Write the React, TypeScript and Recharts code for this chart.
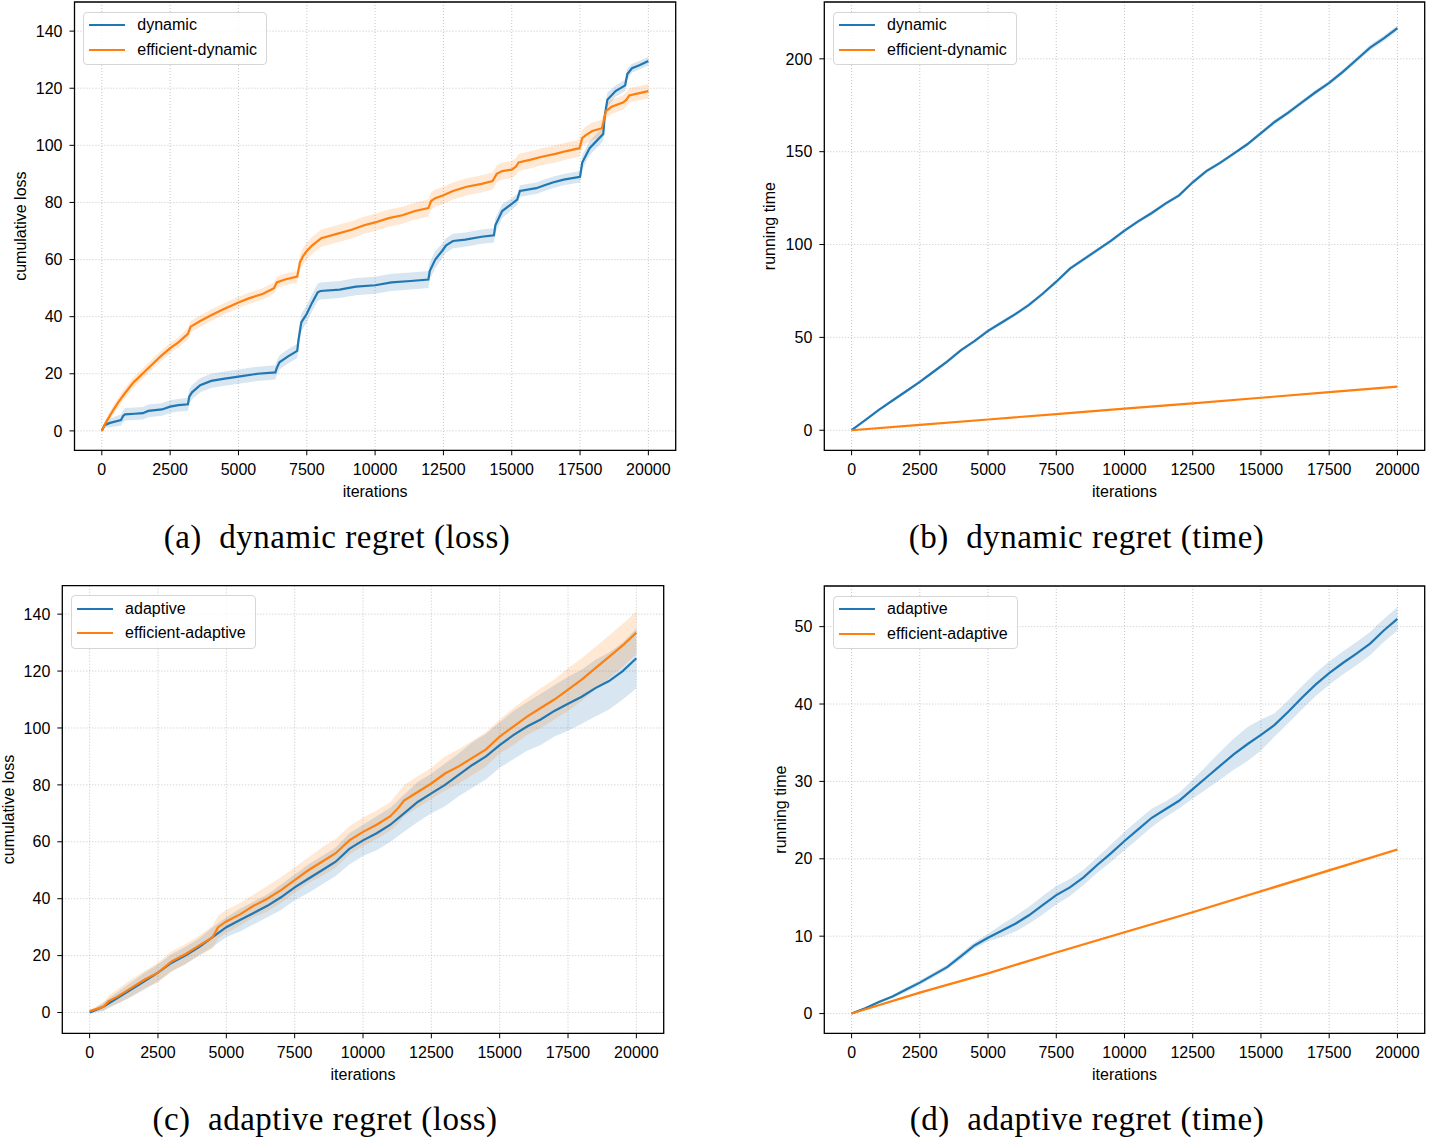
import React from 'react';
import { ComposedChart, Line, Area, XAxis, YAxis, CartesianGrid, ReferenceArea } from 'recharts';

const BLUE = '#1f77b4';
const ORANGE = '#ff7f0e';
const SANS = '"Liberation Sans", Arial, sans-serif';
const SERIF = '"Liberation Serif", "Times New Roman", serif';

const iterationTicks = [0, 2500, 5000, 7500, 10000, 12500, 15000, 17500, 20000];
const lossTicks = [0, 20, 40, 60, 80, 100, 120, 140];
const dynamicTimeTicks = [0, 50, 100, 150, 200];
const adaptiveTimeTicks = [0, 10, 20, 30, 40, 50];

// each point: [iteration, mean, half-width of the shaded band]
const dynamicLoss = [
  [0, 0, 0.3], [100, 2, 0.8], [300, 2.8, 1.5], [700, 3.8, 2], [780, 5.2, 2], [850, 5.8, 2.2],
  [1200, 6, 2.2], [1500, 6.2, 2.2], [1700, 7, 2.2], [2200, 7.5, 2.2], [2500, 8.5, 2.2], [2800, 9, 2.2],
  [3150, 9.3, 2.3], [3200, 12, 2.5], [3300, 13.5, 2.5], [3600, 16, 2.5], [4000, 17.5, 2.5], [4500, 18.3, 2.5],
  [5000, 19, 2.5], [5700, 20, 2.5], [6350, 20.5, 2.5], [6400, 22, 2.5], [6500, 24, 2.5], [6800, 26, 2.5],
  [7150, 28, 2.5], [7200, 32, 3], [7300, 38, 3], [7500, 41, 3], [7700, 45, 3], [7900, 48.5, 3],
  [8000, 49, 3], [8700, 49.5, 3], [9300, 50.5, 3], [10000, 51, 3], [10600, 52, 3], [11300, 52.5, 3],
  [11950, 53, 3], [12000, 56, 3], [12200, 60, 3], [12450, 63, 2.5], [12600, 65, 2.5], [12850, 66.5, 2.5],
  [13300, 67, 2.5], [13900, 68, 2.5], [14350, 68.5, 2.5], [14400, 72, 2.5], [14650, 77, 2.5], [15000, 79.5, 2],
  [15200, 81, 2], [15300, 84, 2], [15900, 85, 2], [16200, 86, 2], [16500, 87, 2], [16900, 88, 2],
  [17500, 89, 2], [17580, 94, 2.5], [17850, 99, 2.5], [18150, 102, 2.5], [18350, 104, 2.5], [18400, 110, 2.5],
  [18500, 116, 2.5], [18800, 119, 2], [19150, 121, 2], [19230, 125, 2], [19400, 127, 1.5], [19650, 128, 1.5],
  [20000, 129.5, 1.5],
];

const efficientDynamicLoss = [
  [0, 0, 0.3], [150, 3, 1], [400, 7, 1.5], [600, 10, 1.7], [830, 13, 1.8], [1160, 17, 1.8],
  [1650, 21.5, 1.8], [2140, 26, 1.8], [2500, 29, 1.8], [2800, 31, 1.8], [3150, 34, 2], [3250, 36.5, 2],
  [3600, 38.5, 2], [4000, 40.5, 2], [4430, 42.5, 2], [5000, 45, 2], [5400, 46.5, 2], [5900, 48, 2],
  [6300, 50, 2], [6400, 52, 2], [6700, 53, 2], [7150, 54, 2], [7250, 59, 2.5], [7350, 61, 3],
  [7500, 63, 3], [7700, 65, 3], [8030, 67.5, 3], [8600, 69, 3], [9170, 70.5, 3], [9600, 72, 3],
  [10000, 73, 3], [10500, 74.5, 3], [11000, 75.5, 3], [11460, 77, 3], [11950, 78, 3], [12050, 80.5, 3],
  [12200, 81.5, 3], [12500, 82.5, 3], [12850, 84, 3], [13350, 85.5, 3], [13900, 86.5, 3], [14300, 87.5, 3],
  [14450, 90, 3], [14650, 91, 3], [15000, 91.5, 3], [15150, 92.5, 3], [15250, 94, 3], [15700, 95, 3],
  [16100, 96, 3], [16600, 97, 3], [17000, 98, 3], [17480, 99, 3], [17580, 102.5, 3], [17700, 103.5, 3],
  [17950, 105, 3], [18300, 106, 3], [18400, 110, 2.5], [18450, 112, 2.5], [18650, 113.5, 2.5], [19070, 115, 2.5],
  [19200, 116, 2.5], [19300, 117.5, 2.5], [19550, 118, 2.5], [20000, 119, 2.5],
];

const dynamicTime = [
  [0, 0, 0.2], [500, 5.5, 0.5], [1000, 11, 0.6], [1500, 16, 0.7], [2000, 21, 0.8], [2500, 26, 0.8],
  [3000, 31.5, 0.8], [3500, 37, 0.9], [4000, 43, 0.9], [4500, 48, 0.9], [5000, 53.5, 1], [5500, 58, 1],
  [6000, 62.5, 1], [6500, 67.5, 1], [7000, 73.5, 1], [7500, 80, 1], [8000, 87, 1], [8500, 92, 1],
  [9000, 97, 1], [9500, 102, 1], [10000, 107.5, 1], [10500, 112.5, 1], [11000, 117, 1], [11500, 122, 1],
  [12000, 126.5, 1], [12500, 133.5, 1], [13000, 139.5, 1], [13500, 144, 1], [14000, 149, 1], [14500, 154, 1],
  [15000, 160, 1.2], [15500, 166, 1.2], [16000, 171, 1.2], [16500, 176.5, 1.2], [17000, 182, 1.2], [17500, 187, 1.2],
  [18000, 193, 1.3], [18500, 199.5, 1.3], [19000, 206, 1.4], [19500, 211, 1.5], [20000, 216.5, 1.5],
];

const efficientDynamicTime = [
  [0, 0, 0.1], [2500, 2.9, 0.2], [5000, 5.8, 0.2], [7500, 8.7, 0.3], [10000, 11.6, 0.3],
  [12500, 14.5, 0.3], [15000, 17.5, 0.3], [17500, 20.5, 0.4], [20000, 23.5, 0.4],
];

const adaptiveLoss = [
  [0, 0, 0.3], [500, 2, 1.5], [1000, 5, 2], [1500, 8, 2.5], [2000, 11, 3], [2500, 14, 3],
  [3000, 17.5, 3], [3500, 20, 3], [4000, 23, 3], [4500, 26.5, 3.5], [5000, 30, 3.5], [5500, 32.5, 4],
  [6000, 35, 4], [6500, 37.5, 4], [7000, 40.5, 4.5], [7500, 44, 4.5], [8000, 47, 5], [8500, 50, 5],
  [9000, 53, 5], [9500, 57.5, 5.5], [10000, 60.5, 5.5], [10500, 63, 6], [11000, 66, 6], [11500, 70, 6.5],
  [12000, 74, 7], [12500, 77, 7], [13000, 80, 7.5], [13500, 83.5, 7.5], [14000, 87, 8], [14500, 90, 8],
  [15000, 94, 8], [15500, 97.5, 8.5], [16000, 100.5, 8.5], [16500, 103, 9], [17000, 106, 9], [17500, 108.5, 9.5],
  [18000, 111, 9.5], [18500, 114, 10], [19000, 116.5, 10], [19500, 120, 10], [20000, 124.5, 10.5],
];

const efficientAdaptiveLoss = [
  [0, 0.5, 0.3], [500, 2, 1.5], [700, 4, 2], [1000, 5.5, 2.5], [1500, 8.5, 3], [2000, 11.5, 3],
  [2500, 14, 3.5], [3000, 18, 3.5], [3500, 20.5, 3.5], [4000, 23.5, 3.5], [4500, 26.5, 4], [4700, 30, 4],
  [5000, 32, 4], [5500, 34.5, 4], [6000, 37.5, 4], [6500, 40, 4.5], [7000, 43, 4.5], [7500, 46.5, 4.5],
  [8000, 50, 4.5], [8500, 53, 5], [9000, 56, 5], [9500, 60.5, 5], [10000, 63.5, 5], [10500, 66, 5],
  [11000, 69, 5], [11300, 72, 5.5], [11500, 74.5, 5.5], [12000, 77.5, 5.5], [12500, 80.5, 5.5], [13000, 84, 6],
  [13500, 86.5, 6], [14000, 89.5, 6], [14500, 92.5, 6], [15000, 97, 6], [15500, 100.5, 6.5], [16000, 104, 6.5],
  [16500, 107, 7], [17000, 110, 7], [17500, 113.5, 7.5], [18000, 117, 7.5], [18500, 121, 7.5], [19000, 125, 7.5],
  [19500, 129, 7.5], [20000, 133.5, 7.5],
];

const adaptiveTime = [
  [0, 0, 0.1], [500, 0.7, 0.1], [1000, 1.5, 0.2], [1500, 2.2, 0.2], [2000, 3.1, 0.3], [2500, 4, 0.3],
  [3000, 5, 0.3], [3500, 6, 0.3], [4000, 7.4, 0.4], [4500, 8.8, 0.4], [5000, 9.8, 0.5], [5500, 10.7, 0.8],
  [6000, 11.6, 1], [6500, 12.7, 1.1], [7000, 14, 1.2], [7500, 15.3, 1.2], [8000, 16.3, 1.1], [8500, 17.6, 1],
  [9000, 19.2, 1], [9500, 20.7, 1.1], [10000, 22.3, 1.2], [10500, 23.8, 1.2], [11000, 25.3, 1.2], [11500, 26.4, 1],
  [12000, 27.5, 1], [12500, 29, 1.2], [13000, 30.5, 1.5], [13500, 32, 1.8], [14000, 33.5, 2], [14500, 34.8, 2.2],
  [15000, 36, 2], [15500, 37.3, 1.5], [16000, 39, 1.5], [16500, 40.8, 1.5], [17000, 42.5, 1.5], [17500, 44, 1.5],
  [18000, 45.3, 1.5], [18500, 46.5, 1.5], [19000, 47.8, 1.5], [19500, 49.5, 1.5], [20000, 51, 1.5],
];

const efficientAdaptiveTime = [
  [0, 0, 0.1], [2500, 2.7, 0.1], [3500, 3.7, 0.1], [5000, 5.2, 0.1], [7500, 7.9, 0.15],
  [10000, 10.5, 0.15], [12500, 13.1, 0.15], [15000, 15.8, 0.2], [17500, 18.5, 0.2], [20000, 21.2, 0.2],
];

const rows = (pts: number[][]) => pts.map(([x, m, b]) => ({ x, mean: m, band: [m - b, m + b] }));

const tickStyle = { fontFamily: SANS, fontSize: 16, fill: '#000' };
const labelStyle = { fontFamily: SANS, fontSize: 16, fill: '#000' };

type Series = { name: string; color: string; pts: number[][] };

function LegendBox({ left, top, series }: { left: number; top: number; series: Series[] }) {
  return (
    <div
      style={{
        position: 'absolute', left, top, background: 'rgba(255,255,255,0.8)',
        border: '1px solid #d6d6d6', borderRadius: 4, padding: '0 9px 2px 5px',
        fontFamily: SANS, fontSize: 16, color: '#000',
      }}
    >
      {series.map((s) => (
        <div key={s.name} style={{ display: 'flex', alignItems: 'center', height: 24.7 }}>
          <svg width={36} height={8} style={{ marginRight: 12, display: 'block' }}>
            <line x1={0} x2={36} y1={4} y2={4} stroke={s.color} strokeWidth={2.2} />
          </svg>
          <span>{s.name}</span>
        </div>
      ))}
    </div>
  );
}

type PanelProps = {
  box: number[];
  plot: number[];
  yDomain: number[];
  yTicks: number[];
  yLabel: string;
  yLabelX: number;
  series: Series[];
  legend: number[];
};

function Panel({ box, plot, yDomain, yTicks, yLabel, yLabelX, series, legend }: PanelProps) {
  const [cl, ct, cw, ch] = box;
  const [px0, px1, py0, py1] = plot;
  return (
    <div style={{ position: 'absolute', left: cl, top: ct, width: cw, height: ch }}>
      <ComposedChart
        width={cw}
        height={ch}
        margin={{ top: py0 - ct, right: cl + cw - px1, left: 0, bottom: 0 }}
      >
        <CartesianGrid stroke="#b8b8b8" strokeDasharray="1 2" strokeWidth={0.8} />
        <XAxis
          type="number"
          dataKey="x"
          domain={[-1000, 21000]}
          ticks={iterationTicks}
          interval={0}
          allowDataOverflow
          height={ct + ch - py1}
          axisLine={false}
          tickSize={5}
          tickMargin={8}
          tickLine={{ stroke: '#000' }}
          tick={tickStyle}
          label={{ value: 'iterations', position: 'insideTop', offset: 35, style: labelStyle }}
        />
        <YAxis
          type="number"
          domain={yDomain}
          ticks={yTicks}
          interval={0}
          allowDataOverflow
          width={px0 - cl}
          axisLine={false}
          tickSize={5}
          tickMargin={7}
          tickLine={{ stroke: '#000' }}
          tick={tickStyle}
          label={{
            value: yLabel, angle: -90, position: 'insideLeft', offset: yLabelX,
            style: { ...labelStyle, textAnchor: 'middle' },
          }}
        />
        {series.map((s) => (
          <Area
            key={s.name + '-band'}
            data={rows(s.pts)}
            dataKey="band"
            type="linear"
            stroke="none"
            fill={s.color}
            fillOpacity={0.18}
            isAnimationActive={false}
          />
        ))}
        {series.map((s) => (
          <Line
            key={s.name}
            data={rows(s.pts)}
            dataKey="mean"
            type="linear"
            stroke={s.color}
            strokeWidth={2.2}
            dot={false}
            activeDot={false}
            isAnimationActive={false}
          />
        ))}
        <ReferenceArea
          x1={-1000}
          x2={21000}
          y1={yDomain[0]}
          y2={yDomain[1]}
          fill="none"
          stroke="#000"
          strokeWidth={1.3}
          fillOpacity={0}
        />
      </ComposedChart>
      <LegendBox left={legend[0]} top={legend[1]} series={series} />
    </div>
  );
}

function Caption({ text, cx, cy }: { text: string; cx: number; cy: number }) {
  return (
    <div
      style={{
        position: 'absolute', left: cx - 300, top: cy - 18, width: 600, textAlign: 'center',
        fontFamily: SERIF, fontSize: 33, lineHeight: '33px', letterSpacing: 0.5,
        color: '#000', whiteSpace: 'pre',
      }}
    >
      {text}
    </div>
  );
}

export default function App() {
  return (
    <div style={{ position: 'absolute', left: 0, top: 0, width: 1429, height: 1139, background: '#fff' }}>
      <Panel
        box={[0, 0, 700, 515]}
        plot={[74.5, 675.7, 2, 450.3]}
        yDomain={[-6.8, 150.2]}
        yTicks={lossTicks}
        yLabel="cumulative loss"
        yLabelX={20}
        legend={[83.3, 11.7]}
        series={[
          { name: 'dynamic', color: BLUE, pts: dynamicLoss },
          { name: 'efficient-dynamic', color: ORANGE, pts: efficientDynamicLoss },
        ]}
      />
      <Panel
        box={[740, 0, 689, 515]}
        plot={[824.3, 1424.7, 2, 450.3]}
        yDomain={[-10.8, 230.6]}
        yTicks={dynamicTimeTicks}
        yLabel="running time"
        yLabelX={29}
        legend={[93.1, 11.7]}
        series={[
          { name: 'dynamic', color: BLUE, pts: dynamicTime },
          { name: 'efficient-dynamic', color: ORANGE, pts: efficientDynamicTime },
        ]}
      />
      <Panel
        box={[0, 580, 700, 515]}
        plot={[62.3, 663.7, 585.7, 1033.3]}
        yDomain={[-7.3, 150]}
        yTicks={lossTicks}
        yLabel="cumulative loss"
        yLabelX={8}
        legend={[71.1, 15.4]}
        series={[
          { name: 'adaptive', color: BLUE, pts: adaptiveLoss },
          { name: 'efficient-adaptive', color: ORANGE, pts: efficientAdaptiveLoss },
        ]}
      />
      <Panel
        box={[740, 580, 689, 515]}
        plot={[824.3, 1424.7, 586, 1033.3]}
        yDomain={[-2.55, 55.25]}
        yTicks={adaptiveTimeTicks}
        yLabel="running time"
        yLabelX={40}
        legend={[93.1, 15.7]}
        series={[
          { name: 'adaptive', color: BLUE, pts: adaptiveTime },
          { name: 'efficient-adaptive', color: ORANGE, pts: efficientAdaptiveTime },
        ]}
      />
      <Caption text="(a)  dynamic regret (loss)" cx={337} cy={538.5} />
      <Caption text="(b)  dynamic regret (time)" cx={1086.5} cy={538.5} />
      <Caption text="(c)  adaptive regret (loss)" cx={325} cy={1121} />
      <Caption text="(d)  adaptive regret (time)" cx={1087} cy={1121} />
    </div>
  );
}
